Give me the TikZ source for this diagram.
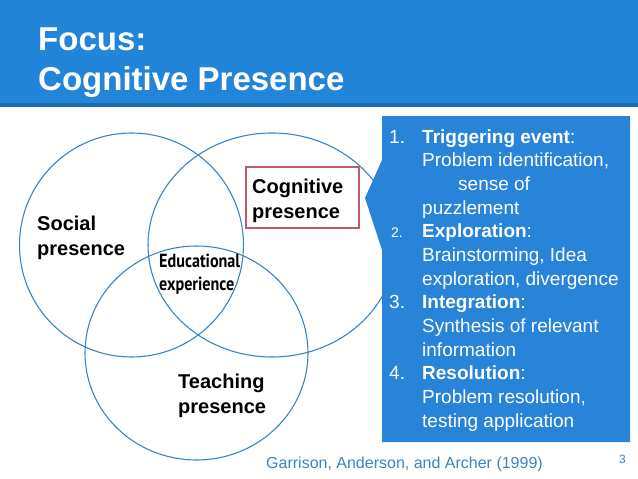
\documentclass[tikz,border=0pt]{standalone}
\usepackage{fontspec}
\setmainfont{Liberation Sans}
\newfontfamily\condfont[FakeStretch=0.85]{PT Sans}
\usetikzlibrary{positioning}
\definecolor{band}{HTML}{2385D9}
\definecolor{bandedge}{HTML}{1C6BB0}
\definecolor{ring}{HTML}{3A84C6}
\definecolor{callout}{HTML}{2784D8}
\definecolor{framecol}{HTML}{C25A66}

\begin{document}
\begin{tikzpicture}[
  x=1pt, y=-1pt,
  ring/.style={draw=ring, line width=1.1pt},
  venntext/.style={anchor=base west, align=left, inner sep=0pt, text=black,
    font=\fontsize{20}{25}\selectfont\bfseries},
  cogbox/.style={draw=framecol, line width=1.4pt, fill=white, inner sep=0pt,
    minimum width=113pt, minimum height=61pt},
  steptext/.style={anchor=north west, inner sep=0pt, text=white,
    font=\fontsize{19}{23.67}\selectfont},
  foot/.style={anchor=base west, inner sep=0pt, text=ring},
]
\useasboundingbox (0,0) rectangle (638,479);
% header band
\fill[band] (0,0) rectangle (638,103);
\fill[bandedge] (0,103) rectangle (638,107);
\node[anchor=base west, align=left, inner sep=0pt, text=white,
  font=\fontsize{33}{40}\selectfont\bfseries] (title) at (38,90) {Focus:\\Cognitive Presence};

% the three presences
\draw[ring] (131.5,245) ellipse [x radius=112, y radius=112];
\draw[ring] (272,245) ellipse [x radius=124, y radius=112];
\draw[ring] (196.5,353) ellipse [x radius=111.5, y radius=107];

\node[cogbox] (cog) at (302.5,197.5) {};
\node[venntext] (cogtext) at (252,218) {Cognitive\\presence};
\node[venntext] (social) at (37,255) {Social\\presence};
\node[venntext] (teach) at (178,413) {Teaching\\presence};
\node[venntext, font=\fontsize{19}{23}\selectfont\condfont\bfseries] (edu) at (159,290)
  {Educational\\experience};

% callout with the four phases
\coordinate (ctop) at (382,160);
\coordinate (ctip) at (365,198);
\coordinate (cbot) at (382,250);
\fill[callout] (382,116) -- (630,116) -- (630,442) -- (382,442) -- (cbot) -- (ctip) -- (ctop) -- cycle;
\node[steptext] (steps) at (389,126.4) {%
\begin{tabular}{@{}p{33pt}@{}l@{}}
1. & \textbf{Triggering event}:\\
   & Problem identification,\\
   & \hspace*{36pt}sense of\\
   & puzzlement\\
\hspace*{2pt}{\fontsize{14}{14}\selectfont 2.} & \textbf{Exploration}:\\
   & Brainstorming, Idea\\
   & exploration, divergence\\
3. & \textbf{Integration}:\\
   & Synthesis of relevant\\
   & information\\
4. & \textbf{Resolution}:\\
   & Problem resolution,\\
   & testing application
\end{tabular}};

% footer
\node[foot, font=\fontsize{16}{19}\selectfont] (cite) at (266,468) {Garrison, Anderson, and Archer (1999)};
\node[foot, font=\fontsize{12}{14}\selectfont] (page) at (619,463) {3};
\end{tikzpicture}
\end{document}
